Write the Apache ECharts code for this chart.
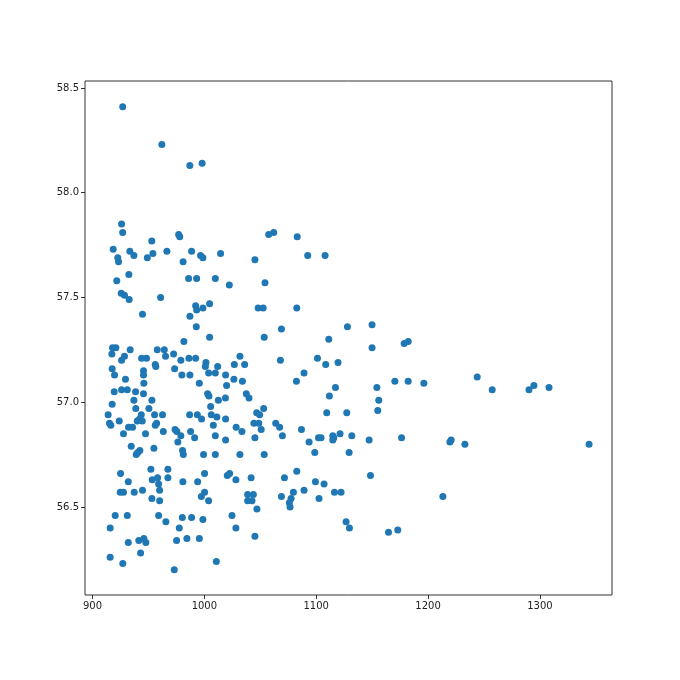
<!DOCTYPE html>
<html>
<head>
<meta charset="utf-8">
<script src="https://cdn.jsdelivr.net/npm/echarts@6/dist/echarts.min.js"></script>
<style>html,body{margin:0;padding:0;background:#fff}#chart{width:680px;height:680px}</style>
</head>
<body>
<div id="chart"></div>
<script>
const xTicks = [900, 1000, 1100, 1200, 1300];
const yTicks = [56.5, 57.0, 57.5, 58.0, 58.5];

const xValues = [
927,962,987,998,926,927,953,977,978,1057.5,1062,1083,918.5,922.6,933.4,937,949,954,966.5,981,988.6,996.6,998.7,1014.5,1045.2,1092.4,1107.9,
923.3,932.5,921.7,985.9,993.1,1009.8,1022.3,1054.2,925.7,928.6,932.8,960.9,944.7,992.2,993.1,998.7,1004.7,987.1,1048.1,1052.6,1082.6,992.8,1068.9,1127.9,1149.9,1004.7,1053.5,1111.2,981.7,1149.9,1178.6,1182.2,
917.9,920.9,917.3,933.7,928.6,926,943.9,948.3,957.9,964.2,965.3,972.5,979,986.2,992.2,1001.4,1000.9,1031.8,1026.8,1036,1068,1101.1,1108.5,1119.5,
917.6,919.7,945.6,945.6,945.9,956.1,956.6,973.4,1011.9,1003.8,1009.8,1089.1,929.5,979.9,987.1,1019,1026.4,1034,995.5,1082.3,1117.2,1170.3,1182.2,1196.2,1154.2,1019.9,
926,931.1,938.5,919.4,945.6,953.1,937,1002.9,1004.1,1012.5,1018.8,1037.5,1039.9,1111.8,1155.9,917.6,938.7,950.4,1005.6,1053,1109.4,1127.3,1155,
914,943.6,942.1,940,944.5,955.5,962.6,986.8,993.7,997.5,1006.2,1011.2,1019,1046.8,1049.4,923.9,915.2,916.4,932.2,935.8,957.3,956.1,1008,1044.3,1048.6,1063.8,1067.3,1086.8,
1243.9,1257.3,1290.2,1294.6,1308.1,
927.7,947.4,963.3,973.8,975.4,979,976.3,987.7,991.3,1009.8,1019,1028.4,1033.6,1045.2,1050.8,934.6,939.1,940.5,942.3,954.9,980.5,981.2,999.3,1009.8,1031.8,1053.5,
1069.8,1093.6,1102,1104.3,1114.8,1114.8,1115.7,1121.3,1131.8,1147.3,1176.3,1098.7,1129.4,1219.5,1220.6,1232.9,1343.9,
925.1,932,952.2,953.4,958.2,959.1,967.4,967.4,980.8,994,1000.2,1020.5,1022.6,1028.2,1041.8,1071.6,1082.6,1099.3,1107,1148.5,
924.8,927.7,937.3,944.7,960,953.1,960,1000.2,997.3,1003.8,1038.7,1043.8,1038.7,1042.6,1047,1068.9,1079.6,1077.5,1076,1076.6,1089.1,1102.5,1116.3,1122.2,1213.2,
920.3,931.1,959.1,965.6,980.3,988.6,998.7,1024.7,915.8,977.6,1028.2,1045.2,1126.7,1129.7,1164.6,1172.9,
932,941.4,945.9,947.7,975.2,984.4,995.5,943,915.8,927.1,1010.7,973.1
];

const yValues = [
58.41,58.23,58.13,58.14,57.85,57.81,57.77,57.80,57.79,57.80,57.81,57.79,57.73,57.69,57.72,57.70,57.69,57.71,57.72,57.67,57.72,57.70,57.69,57.71,57.68,57.70,57.70,
57.67,57.61,57.58,57.59,57.59,57.59,57.56,57.57,57.52,57.51,57.49,57.50,57.42,57.46,57.44,57.45,57.47,57.41,57.45,57.45,57.45,57.36,57.35,57.36,57.37,57.31,57.31,57.30,57.29,57.26,57.28,57.29,
57.26,57.26,57.23,57.25,57.22,57.20,57.21,57.21,57.25,57.25,57.22,57.23,57.20,57.21,57.21,57.19,57.17,57.22,57.18,57.18,57.20,57.21,57.18,57.19,
57.16,57.13,57.15,57.13,57.09,57.18,57.17,57.16,57.17,57.14,57.14,57.14,57.11,57.13,57.13,57.13,57.11,57.10,57.09,57.10,57.07,57.10,57.10,57.09,57.07,57.08,
57.06,57.06,57.05,57.05,57.04,57.01,57.01,57.04,57.03,57.01,57.02,57.04,57.02,57.03,57.01,56.99,56.97,56.97,56.98,56.97,56.95,56.95,56.96,
56.94,56.94,56.92,56.91,56.91,56.94,56.94,56.94,56.94,56.92,56.94,56.93,56.92,56.95,56.94,56.91,56.90,56.89,56.88,56.88,56.90,56.89,56.89,56.90,56.90,56.90,56.88,56.87,
57.12,57.06,57.06,57.08,57.07,
56.85,56.85,56.86,56.87,56.86,56.84,56.81,56.86,56.83,56.84,56.82,56.88,56.86,56.83,56.87,56.79,56.75,56.76,56.77,56.78,56.77,56.75,56.75,56.75,56.75,56.75,
56.84,56.81,56.83,56.83,56.84,56.82,56.83,56.85,56.84,56.82,56.83,56.76,56.76,56.81,56.82,56.80,56.80,
56.66,56.62,56.68,56.63,56.64,56.61,56.68,56.64,56.62,56.62,56.66,56.65,56.66,56.63,56.64,56.64,56.67,56.62,56.61,56.65,
56.57,56.57,56.57,56.58,56.58,56.54,56.53,56.57,56.55,56.53,56.56,56.56,56.53,56.53,56.49,56.55,56.57,56.54,56.52,56.50,56.58,56.54,56.57,56.57,56.55,
56.46,56.46,56.46,56.43,56.45,56.45,56.44,56.46,56.40,56.40,56.40,56.36,56.43,56.40,56.38,56.39,
56.33,56.34,56.35,56.33,56.34,56.35,56.35,56.28,56.26,56.23,56.24,56.20
];

const points = xValues.map((x, i) => [x, yValues[i]]);

const chart = echarts.init(document.getElementById('chart'), null, {renderer: 'canvas'});
const labelStyle = {fontFamily: 'DejaVu Sans', fontSize: 10, color: '#222'};
chart.setOption({
  animation: false,
  backgroundColor: '#fff',
  grid: {left: 85, right: 68, top: 81, bottom: 85, show: true, borderColor: '#333', borderWidth: 1, backgroundColor: 'transparent'},
  xAxis: {
    type: 'value', min: 893.3, max: 1364.4,
    axisLine: {show: false},
    axisTick: {show: true, inside: false, length: 4, lineStyle: {color: '#333'}, customValues: xTicks},
    axisLabel: Object.assign({margin: 6, customValues: xTicks, formatter: v => String(v)}, labelStyle),
    splitLine: {show: false}
  },
  yAxis: {
    type: 'value', min: 56.08, max: 58.533,
    axisLine: {show: false},
    axisTick: {show: true, inside: false, length: 4, lineStyle: {color: '#333'}, customValues: yTicks},
    axisLabel: Object.assign({margin: 6, customValues: yTicks, formatter: v => v.toFixed(1)}, labelStyle),
    splitLine: {show: false}
  },
  series: [{
    type: 'scatter',
    data: points,
    symbolSize: 7,
    itemStyle: {color: '#1f77b4', opacity: 1},
    emphasis: {disabled: true}
  }]
});
</script>
</body>
</html>
